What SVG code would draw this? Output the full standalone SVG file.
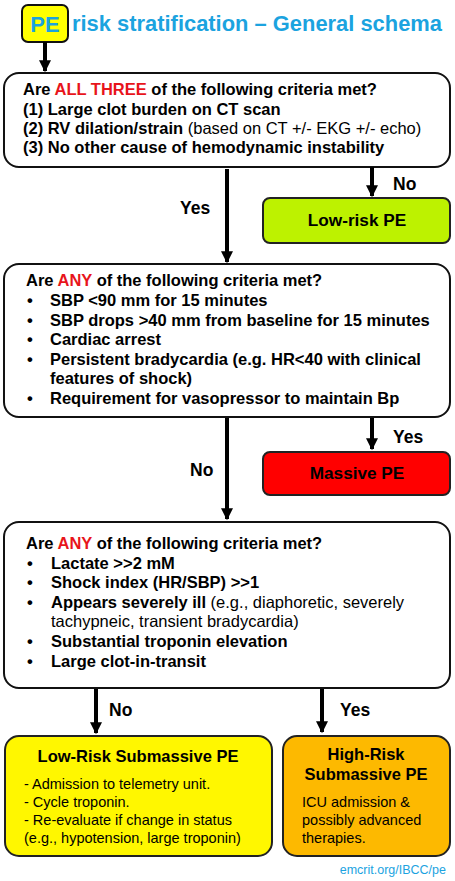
<svg xmlns="http://www.w3.org/2000/svg" width="455" height="881" viewBox="0 0 455 881">
<defs>
<style>
text{font-family:"Liberation Sans",Arial,sans-serif;fill:#000}
.q{font-size:16.5px;font-weight:bold}
.n{font-size:16.5px;font-weight:normal}
.t{font-size:17.2px;font-weight:bold}
.red{fill:#E8141B}
.box{fill:#fff;stroke:#111;stroke-width:2}
.lab{font-size:17.5px;font-weight:bold}
.sm{font-size:14.5px}
.c{stroke:#000;stroke-width:4;fill:none}
</style>
<marker id="ah" viewBox="0 0 10 10" refX="9" refY="5" markerWidth="3.2" markerHeight="3" orient="auto" markerUnits="strokeWidth">
<path d="M0,0 L10,5 L0,10 z" fill="#000"/>
</marker>
</defs>
<rect width="455" height="881" fill="#fff"/>

<g id="title">
<rect x="22" y="5" width="46" height="37" rx="6" fill="#FFFF00" stroke="#111" stroke-width="2"/>
<text x="45" y="32" text-anchor="middle" style="font-size:22px;font-weight:bold;fill:#1BA3DF">PE</text>
<text x="72" y="31" textLength="370" lengthAdjust="spacingAndGlyphs" style="font-size:22px;font-weight:bold;fill:#1BA3DF">risk stratification – General schema</text>
</g>

<g id="q1">
<rect class="box" x="4" y="73" width="446" height="94" rx="15"/>
<text class="q" x="23" y="95">Are <tspan class="red">ALL THREE</tspan> of the following criteria met?</text>
<text class="q" x="23" y="115">(1) Large clot burden on CT scan</text>
<text class="q" x="23" y="134">(2) RV dilation/strain <tspan class="n">(based on CT +/- EKG +/- echo)</tspan></text>
<text class="q" x="23" y="153">(3) No other cause of hemodynamic instability</text>
</g>

<g id="lowrisk">
<rect x="263" y="198" width="187" height="45" rx="7" fill="#BDF200" stroke="#222" stroke-width="2"/>
<text class="t" x="357" y="226" text-anchor="middle">Low-risk PE</text>
</g>

<g id="q2">
<rect class="box" x="4" y="264" width="446" height="153" rx="15"/>
<text class="q" x="26" y="286">Are <tspan class="red">ANY</tspan> of the following criteria met?</text>
<g class="q">
<text x="27" y="306">•</text><text x="50" y="306">SBP &lt;90 mm for 15 minutes</text>
<text x="27" y="326">•</text><text x="50" y="326">SBP drops &gt;40 mm from baseline for 15 minutes</text>
<text x="27" y="345">•</text><text x="50" y="345">Cardiac arrest</text>
<text x="27" y="365">•</text><text x="50" y="365">Persistent bradycardia (e.g. HR&lt;40 with clinical</text>
<text x="50" y="384">features of shock)</text>
<text x="27" y="404">•</text><text x="50" y="404">Requirement for vasopressor to maintain Bp</text>
</g>
</g>

<g id="massive">
<rect x="263" y="452" width="187" height="43" rx="7" fill="#FF0000" stroke="#222" stroke-width="2"/>
<text class="t" x="357" y="479" text-anchor="middle">Massive PE</text>
</g>

<g id="q3">
<rect class="box" x="4" y="522" width="446" height="166" rx="15"/>
<text class="q" x="26" y="549">Are <tspan class="red">ANY</tspan> of the following criteria met?</text>
<g class="q">
<text x="27" y="569">•</text><text x="51" y="569">Lactate &gt;&gt;2 mM</text>
<text x="27" y="588">•</text><text x="51" y="588">Shock index (HR/SBP) &gt;&gt;1</text>
<text x="27" y="608">•</text><text x="51" y="608">Appears severely ill <tspan class="n">(e.g., diaphoretic, severely</tspan></text>
<text x="51" y="627" class="n">tachypneic, transient bradycardia)</text>
<text x="27" y="647">•</text><text x="51" y="647">Substantial troponin elevation</text>
<text x="27" y="667">•</text><text x="51" y="667">Large clot-in-transit</text>
</g>
</g>

<g id="lowsub">
<rect x="5" y="736" width="267" height="120" rx="14" fill="#FFF700" stroke="#222" stroke-width="2"/>
<text class="q" x="138" y="762" text-anchor="middle">Low-Risk Submassive PE</text>
<text class="sm" x="24" y="789">- Admission to telemetry unit.</text>
<text class="sm" x="24" y="807">- Cycle troponin.</text>
<text class="sm" x="24" y="825">- Re-evaluate if change in status</text>
<text class="sm" x="24" y="843">(e.g., hypotension, large troponin)</text>
</g>

<g id="highsub">
<rect x="283" y="736" width="167" height="120" rx="14" fill="#FDB900" stroke="#222" stroke-width="2"/>
<text class="q" x="366" y="760" text-anchor="middle">High-Risk</text>
<text class="q" x="366" y="780" text-anchor="middle">Submassive PE</text>
<text class="sm" x="302" y="807">ICU admission &amp;</text>
<text class="sm" x="302" y="825">possibly advanced</text>
<text class="sm" x="302" y="843">therapies.</text>
</g>

<g id="connectors">
<line class="c" x1="45" y1="42" x2="45" y2="71" marker-end="url(#ah)"/>
<line class="c" x1="372" y1="167" x2="372" y2="196" marker-end="url(#ah)"/>
<line class="c" x1="227" y1="169" x2="227" y2="262" marker-end="url(#ah)"/>
<line class="c" x1="372" y1="418" x2="372" y2="449" marker-end="url(#ah)"/>
<line class="c" x1="227" y1="418" x2="227" y2="519" marker-end="url(#ah)"/>
<line class="c" x1="96" y1="689" x2="96" y2="733" marker-end="url(#ah)"/>
<line class="c" x1="322" y1="689" x2="322" y2="732" marker-end="url(#ah)"/>
<text class="lab" x="393" y="190">No</text>
<text class="lab" x="180" y="214">Yes</text>
<text class="lab" x="393" y="443">Yes</text>
<text class="lab" x="190" y="476">No</text>
<text class="lab" x="109" y="716">No</text>
<text class="lab" x="340" y="716">Yes</text>
</g>

<text x="446" y="874" text-anchor="end" style="font-size:12.5px;fill:#1BA3DF">emcrit.org/IBCC/pe</text>
</svg>
